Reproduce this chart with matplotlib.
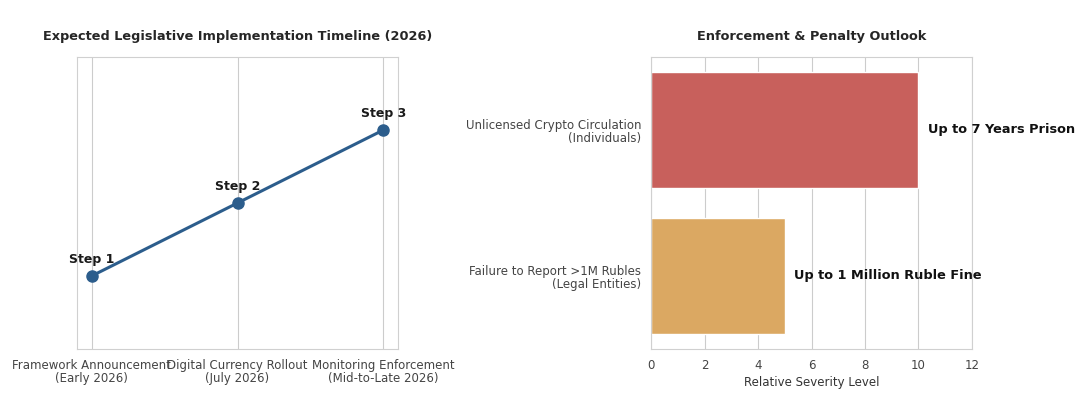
import numpy as np
import matplotlib.pyplot as plt
import seaborn as sns

# data
milestones = ["Framework Announcement\n(Early 2026)",
              "Digital Currency Rollout\n(July 2026)",
              "Monitoring Enforcement\n(Mid-to-Late 2026)"]
steps = [1, 2, 3]
step_labels = ["Step 1", "Step 2", "Step 3"]

violations = ["Unlicensed Crypto Circulation\n(Individuals)",
              "Failure to Report >1M Rubles\n(Legal Entities)"]
severity = [10, 5]
penalties = ["Up to 7 Years Prison", "Up to 1 Million Ruble Fine"]
bar_colors = ["#c8605c", "#dba862"]

sns.set_style("whitegrid")
plt.rcParams['font.family'] = ['DejaVu Sans']

fig = plt.figure(figsize=(10.8, 4.03), dpi=100)
ax1 = fig.add_axes([77/1080, 1 - 349/403, 321/1080, 292/403])
ax2 = fig.add_axes([651/1080, 1 - 349/403, 321/1080, 292/403])

# timeline
x = np.arange(len(milestones))
ax1.plot(x, steps, color="#2c5d8c", lw=2.2, marker="o", ms=8, zorder=3)
for xi, yi, lab in zip(x, steps, step_labels):
    ax1.annotate(lab, (xi, yi), xytext=(0, 7), textcoords="offset points",
                 ha="center", va="bottom", fontsize=9, fontweight="bold",
                 color="#1a1a1a")
ax1.set_xlim(-0.1, 2.1)
ax1.set_ylim(0, 4)
ax1.set_yticks([])
ax1.set_xticks(x)
ax1.set_xticklabels(milestones, fontsize=8.5, color="#444444",
                    linespacing=1.05)
ax1.tick_params(axis="x", length=0, pad=7)
ax1.grid(axis="y", visible=False)
ax1.set_title("Expected Legislative Implementation Timeline (2026)",
              fontsize=9.3, fontweight="bold", pad=12)

# penalties
yy = np.arange(len(violations))
ax2.barh(yy, severity, height=0.8, color=bar_colors, zorder=2)
for yi, v, txt in zip(yy, severity, penalties):
    ax2.text(v + 0.35, yi, txt, va="center", ha="left", fontsize=9.3,
             fontweight="bold", color="#111111")
ax2.set_xlim(0, 12)
ax2.set_ylim(1.5, -0.5)
ax2.set_yticks(yy)
ax2.set_yticklabels(violations, fontsize=8.5, color="#444444",
                    linespacing=1.05)
ax2.set_xticks(range(0, 13, 2))
ax2.tick_params(axis="x", labelsize=8.5, labelcolor="#444444", length=0,
                pad=7)
ax2.tick_params(axis="y", length=0, pad=7)
ax2.grid(axis="y", visible=False)
ax2.set_xlabel("Relative Severity Level", fontsize=8.5, color="#333333",
               labelpad=3)
ax2.set_title("Enforcement & Penalty Outlook", fontsize=9.3,
              fontweight="bold", pad=12)

for ax in (ax1, ax2):
    for s in ax.spines.values():
        s.set_color("#d0d0d0")

fig.savefig("out.png", dpi=100)
